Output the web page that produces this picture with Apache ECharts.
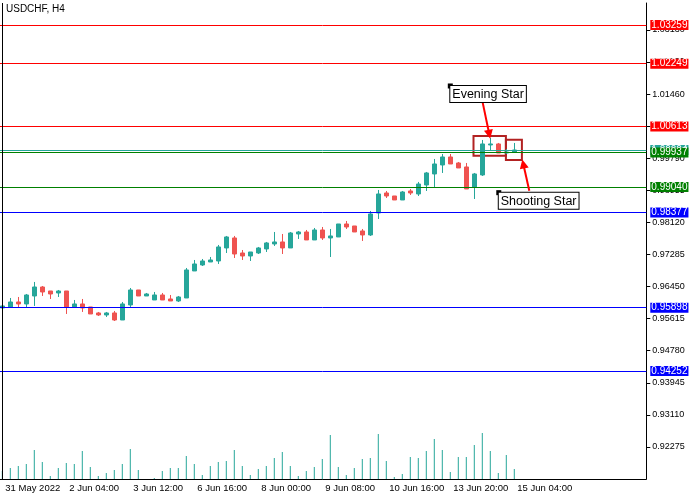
<!DOCTYPE html>
<html>
<head>
<meta charset="utf-8">
<title>USDCHF, H4</title>
<script src="https://cdn.jsdelivr.net/npm/echarts@6.0.0/dist/echarts.min.js"></script>
<style>
  html, body { margin: 0; padding: 0; background: #fff; }
  #chart { width: 700px; height: 500px; }
</style>
</head>
<body>
<div id="chart"></div>
<script>
// H4 bars (broker time)
const barTimes = [
  '2022.05.31 20:00',
  '2022.06.01 00:00', '2022.06.01 04:00', '2022.06.01 08:00', '2022.06.01 12:00', '2022.06.01 16:00', '2022.06.01 20:00',
  '2022.06.02 00:00', '2022.06.02 04:00', '2022.06.02 08:00', '2022.06.02 12:00', '2022.06.02 16:00', '2022.06.02 20:00',
  '2022.06.03 00:00', '2022.06.03 04:00', '2022.06.03 08:00', '2022.06.03 12:00', '2022.06.03 16:00', '2022.06.03 20:00',
  '2022.06.05 20:00',
  '2022.06.06 00:00', '2022.06.06 04:00', '2022.06.06 08:00', '2022.06.06 12:00', '2022.06.06 16:00', '2022.06.06 20:00',
  '2022.06.07 00:00', '2022.06.07 04:00', '2022.06.07 08:00', '2022.06.07 12:00', '2022.06.07 16:00', '2022.06.07 20:00',
  '2022.06.08 00:00', '2022.06.08 04:00', '2022.06.08 08:00', '2022.06.08 12:00', '2022.06.08 16:00', '2022.06.08 20:00',
  '2022.06.09 00:00', '2022.06.09 04:00', '2022.06.09 08:00', '2022.06.09 12:00', '2022.06.09 16:00', '2022.06.09 20:00',
  '2022.06.10 00:00', '2022.06.10 04:00', '2022.06.10 08:00', '2022.06.10 12:00', '2022.06.10 16:00', '2022.06.10 20:00',
  '2022.06.12 20:00',
  '2022.06.13 00:00', '2022.06.13 04:00', '2022.06.13 08:00', '2022.06.13 12:00', '2022.06.13 16:00', '2022.06.13 20:00',
  '2022.06.14 00:00', '2022.06.14 04:00', '2022.06.14 08:00', '2022.06.14 12:00', '2022.06.14 16:00', '2022.06.14 20:00',
  '2022.06.15 00:00', '2022.06.15 04:00'
]

const opens = [
  0.95892, 0.95918, 0.96048, 0.95996, 0.96204, 0.96438, 0.96334, 0.96282, 0.96334, 0.95918,
  0.95996, 0.95918, 0.95762, 0.95710, 0.95762, 0.95579, 0.95970, 0.96360, 0.96204, 0.96100,
  0.96230, 0.96126, 0.96074, 0.96152, 0.96855, 0.97011, 0.97089, 0.97115, 0.97454, 0.97714,
  0.97323, 0.97245, 0.97323, 0.97428, 0.97558, 0.97610, 0.97454, 0.97818, 0.97870, 0.97662,
  0.97922, 0.97714, 0.97740, 0.98078, 0.98026, 0.97896, 0.97792, 0.98365, 0.98885, 0.98807,
  0.98703, 0.98937, 0.98859, 0.99093, 0.99380, 0.99614, 0.99822, 0.99666, 0.99562, 0.99041,
  0.99354, 1.00135, 1.00161, 0.99926, 0.99952
]
const closes = [
  0.95944, 0.96048, 0.95996, 0.96230, 0.96438, 0.96308, 0.96256, 0.96334, 0.95918, 0.95996,
  0.95892, 0.95736, 0.95710, 0.95762, 0.95579, 0.95996, 0.96360, 0.96204, 0.96256, 0.96230,
  0.96100, 0.96074, 0.96178, 0.96881, 0.97037, 0.97115, 0.97141, 0.97480, 0.97740, 0.97297,
  0.97245, 0.97349, 0.97454, 0.97584, 0.97610, 0.97454, 0.97844, 0.97870, 0.97662, 0.97922,
  0.97714, 0.97766, 0.98078, 0.98000, 0.97870, 0.97792, 0.98339, 0.98859, 0.98807, 0.98703,
  0.98911, 0.98885, 0.99119, 0.99406, 0.99640, 0.99822, 0.99640, 0.99536, 0.98989, 0.99380,
  1.00161, 1.00161, 0.99926, 0.99952, 1.00004
]
const lows = [
  0.95866, 0.95918, 0.95892, 0.95892, 0.95944, 0.96204, 0.96126, 0.96178, 0.95736, 0.95892,
  0.95788, 0.95736, 0.95684, 0.95658, 0.95553, 0.95579, 0.95918, 0.96204, 0.96204, 0.96100,
  0.96100, 0.96074, 0.96048, 0.96152, 0.96855, 0.96985, 0.97089, 0.97037, 0.97323, 0.97193,
  0.97141, 0.97115, 0.97297, 0.97349, 0.97506, 0.97297, 0.97454, 0.97688, 0.97662, 0.97662,
  0.97662, 0.97219, 0.97740, 0.97948, 0.97870, 0.97636, 0.97766, 0.98208, 0.98755, 0.98703,
  0.98703, 0.98833, 0.98807, 0.98937, 0.99041, 0.99406, 0.99640, 0.99536, 0.98989, 0.98729,
  0.99328, 1.00004, 0.99926, 0.99900, 0.99952
]
const highs = [
  0.95970, 0.96152, 0.96178, 0.96256, 0.96569, 0.96464, 0.96334, 0.96360, 0.96334, 0.96100,
  0.96126, 0.95918, 0.95788, 0.95788, 0.95814, 0.96048, 0.96412, 0.96360, 0.96282, 0.96308,
  0.96282, 0.96230, 0.96204, 0.96933, 0.97141, 0.97167, 0.97219, 0.97532, 0.97766, 0.97766,
  0.97401, 0.97349, 0.97480, 0.97610, 0.97870, 0.97818, 0.97870, 0.97896, 0.97922, 0.97974,
  0.98000, 0.97948, 0.98078, 0.98156, 0.98026, 0.97948, 0.98417, 0.98963, 0.98937, 0.98807,
  0.98937, 0.98989, 0.99172, 0.99432, 0.99770, 0.99900, 0.99900, 0.99692, 0.99666, 0.99406,
  1.00265, 1.00317, 1.00187, 1.00031, 1.00187
]
// tick volume
const volumes = [
  800, 1100, 1300, 1500, 2900, 1700, 300, 1100, 1600, 1500,
  2800, 1200, 300, 600, 900, 1500, 3000, 900, 0, 100,
  800, 1100, 1100, 2300, 1500, 400, 1300, 1700, 1800, 2900,
  1300, 400, 1000, 1300, 2100, 2700, 1300, 300, 800, 1200,
  2000, 4400, 1200, 400, 1100, 2000, 2100, 4500, 1800, 200,
  500, 2200, 2100, 2800, 4000, 2900, 700, 2200, 2200, 3400,
  4600, 2800, 600, 2400, 1000
]

// time scale labels, one every 8 bars
const timeLabels = ['31 May 2022', '2 Jun 04:00', '3 Jun 12:00', '6 Jun 16:00', '8 Jun 00:00',
  '9 Jun 08:00', '10 Jun 16:00', '13 Jun 20:00', '15 Jun 04:00']
// price scale labels
const priceTicks = [0.92275, 0.93110, 0.93945, 0.94780, 0.95615, 0.96450, 0.97285,
  0.98120, 0.98955, 0.99790, 1.00625, 1.01460, 1.02295, 1.03130]

// horizontal levels drawn on the chart
const levelPrices = [1.03259, 1.02249, 1.00613, 0.99937, 0.99040, 0.98377, 0.95898, 0.94252]
const levelColors = ['#ff0000', '#ff0000', '#ff0000', '#008000', '#008000', '#0000ff', '#0000ff', '#0000ff']

// pattern objects: [bar position, price]
const patternNames = ['Evening Star', 'Shooting Star']
const patternAnchors = [[56.0, 1.01670], [62.06, 0.98893]]
const patternBoxes = [
  [[58.9, 1.00369], [62.95, 0.99856]],
  [[62.95, 1.00273], [64.95, 0.99744]]
]
const patternArrows = [
  [[60.05, 1.01236], [60.875, 1.00413]],
  [[65.875, 0.98945], [65.125, 0.9964]]
]

const UP = '#26a69a'
const DOWN = '#ef5350'
const FONT = 'Liberation Sans'
const futureSlots = 16
const frameSlot = 0.025 // left chart border, in bar units

const categories = barTimes.concat(Array.from({ length: futureSlots }, (_, i) => 'next ' + (i + 1)))
const candles = barTimes.map((t, i) => [opens[i], closes[i], lows[i], highs[i]])
const bidPrice = closes[closes.length - 1]

const isLabelBar = (i) => i % 8 === 0 && i < barTimes.length

const myChart = echarts.init(document.getElementById('chart'))

const levelLines = [{ yAxis: bidPrice, color: UP }]
  .concat(levelPrices.map((v, i) => ({ yAxis: v, color: levelColors[i] })))
  .map((l) => ({
    yAxis: l.yAxis,
    lineStyle: { color: l.color, width: 1, type: 'solid' },
    label: { backgroundColor: l.color }
  }))

const option = {
  animation: false,
  backgroundColor: '#fff',
  title: {
    text: 'USDCHF, H4',
    left: 6,
    top: 4,
    padding: 0,
    textStyle: { color: '#000', fontSize: 10, fontWeight: 'normal', fontFamily: FONT }
  },
  grid: {
    left: -1.7, // first bar sits half outside the frame
    top: 3,
    width: 648,
    height: 476,
    containLabel: false,
    outerBoundsMode: 'none'
  },
  xAxis: [
    {
      type: 'category',
      data: categories,
      boundaryGap: true,
      axisLine: { onZero: false, lineStyle: { color: '#000', width: 1 } },
      axisTick: {
        alignWithLabel: true,
        length: 4,
        interval: (i) => isLabelBar(i),
        lineStyle: { color: '#000' }
      },
      axisLabel: {
        interval: (i) => isLabelBar(i),
        formatter: (v, i) => timeLabels[i / 8] || '',
        align: 'left',
        margin: 4,
        padding: [0, 0, 0, 3],
        color: '#000',
        fontSize: 9.5,
        fontFamily: FONT
      },
      splitLine: { show: false }
    },
    {
      // same slots as the category axis, used to place chart objects between bars
      type: 'value',
      min: -0.5,
      max: categories.length - 0.5,
      show: false
    }
  ],
  yAxis: [
    {
      type: 'value',
      position: 'right',
      min: 0.9144,
      max: 1.0383,
      scale: true,
      // keep the price scale on the right edge, not at x = 0 of the helper axis
      axisLine: { show: true, onZero: false, lineStyle: { color: '#000', width: 1 } },
      axisTick: { show: true, length: 4, customValues: priceTicks, lineStyle: { color: '#000' } },
      axisLabel: {
        customValues: priceTicks,
        formatter: (v) => v.toFixed(5),
        margin: 6,
        color: '#000',
        fontSize: 9,
        fontFamily: FONT
      },
      splitLine: { show: false }
    },
    {
      // volumes
      type: 'value',
      position: 'right',
      min: 0,
      max: 47600,
      show: false,
      splitLine: { show: false }
    }
  ],
  series: [
    {
      name: 'Volumes',
      type: 'bar',
      xAxisIndex: 0,
      yAxisIndex: 1,
      data: volumes,
      barWidth: 1,
      itemStyle: { color: UP },
      silent: true
    },
    {
      name: 'USDCHF',
      type: 'candlestick',
      xAxisIndex: 0,
      yAxisIndex: 0,
      data: candles,
      barWidth: 4,
      itemStyle: {
        color: UP,
        color0: DOWN,
        borderColor: UP,
        borderColor0: DOWN,
        borderWidth: 1
      },
      markLine: {
        silent: true,
        precision: 5,
        symbol: ['none', 'none'],
        label: {
          position: 'end',
          distance: 4,
          formatter: (p) => p.value.toFixed(5),
          color: '#fff',
          fontSize: 10,
          lineHeight: 10,
          fontFamily: FONT,
          padding: [0, 1, 0, 1]
        },
        data: levelLines
      }
    },
    {
      // chart objects (patterns)
      name: 'Objects',
      type: 'scatter',
      xAxisIndex: 1,
      yAxisIndex: 0,
      data: [],
      z: 5,
      markArea: {
        silent: true,
        itemStyle: { color: 'rgba(0,0,0,0)', borderColor: '#b22222', borderWidth: 2 },
        label: { show: false },
        data: patternBoxes.map((b) => [{ coord: b[0] }, { coord: b[1] }])
      },
      markLine: {
        silent: true,
        precision: 5,
        symbol: ['none', 'triangle'],
        symbolSize: 9,
        lineStyle: { color: '#ff0000', width: 2, type: 'solid' },
        label: { show: false },
        data: patternArrows.map((a) => [{ coord: a[0] }, { coord: a[1] }])
      },
      markPoint: {
        silent: true,
        symbol: 'rect',
        symbolSize: 5,
        itemStyle: { color: '#000' },
        label: {
          show: true,
          position: [2.5, 2.5],
          align: 'left',
          verticalAlign: 'top',
          formatter: (p) => p.name,
          color: '#000',
          fontSize: 12.5,
          fontFamily: FONT,
          backgroundColor: '#fff',
          borderColor: '#000',
          borderWidth: 1,
          padding: [2, 2, 1, 2]
        },
        data: patternNames.map((n, i) => ({ name: n, coord: patternAnchors[i] }))
      }
    },
    {
      // left chart border
      name: 'Frame',
      type: 'scatter',
      xAxisIndex: 1,
      yAxisIndex: 0,
      data: [],
      z: 4,
      markLine: {
        silent: true,
        precision: 5,
        symbol: 'none',
        lineStyle: { color: '#000', width: 1, type: 'solid' },
        label: { show: false },
        data: [{ xAxis: frameSlot }]
      }
    }
  ]
}

myChart.setOption(option)
</script>
</body>
</html>
